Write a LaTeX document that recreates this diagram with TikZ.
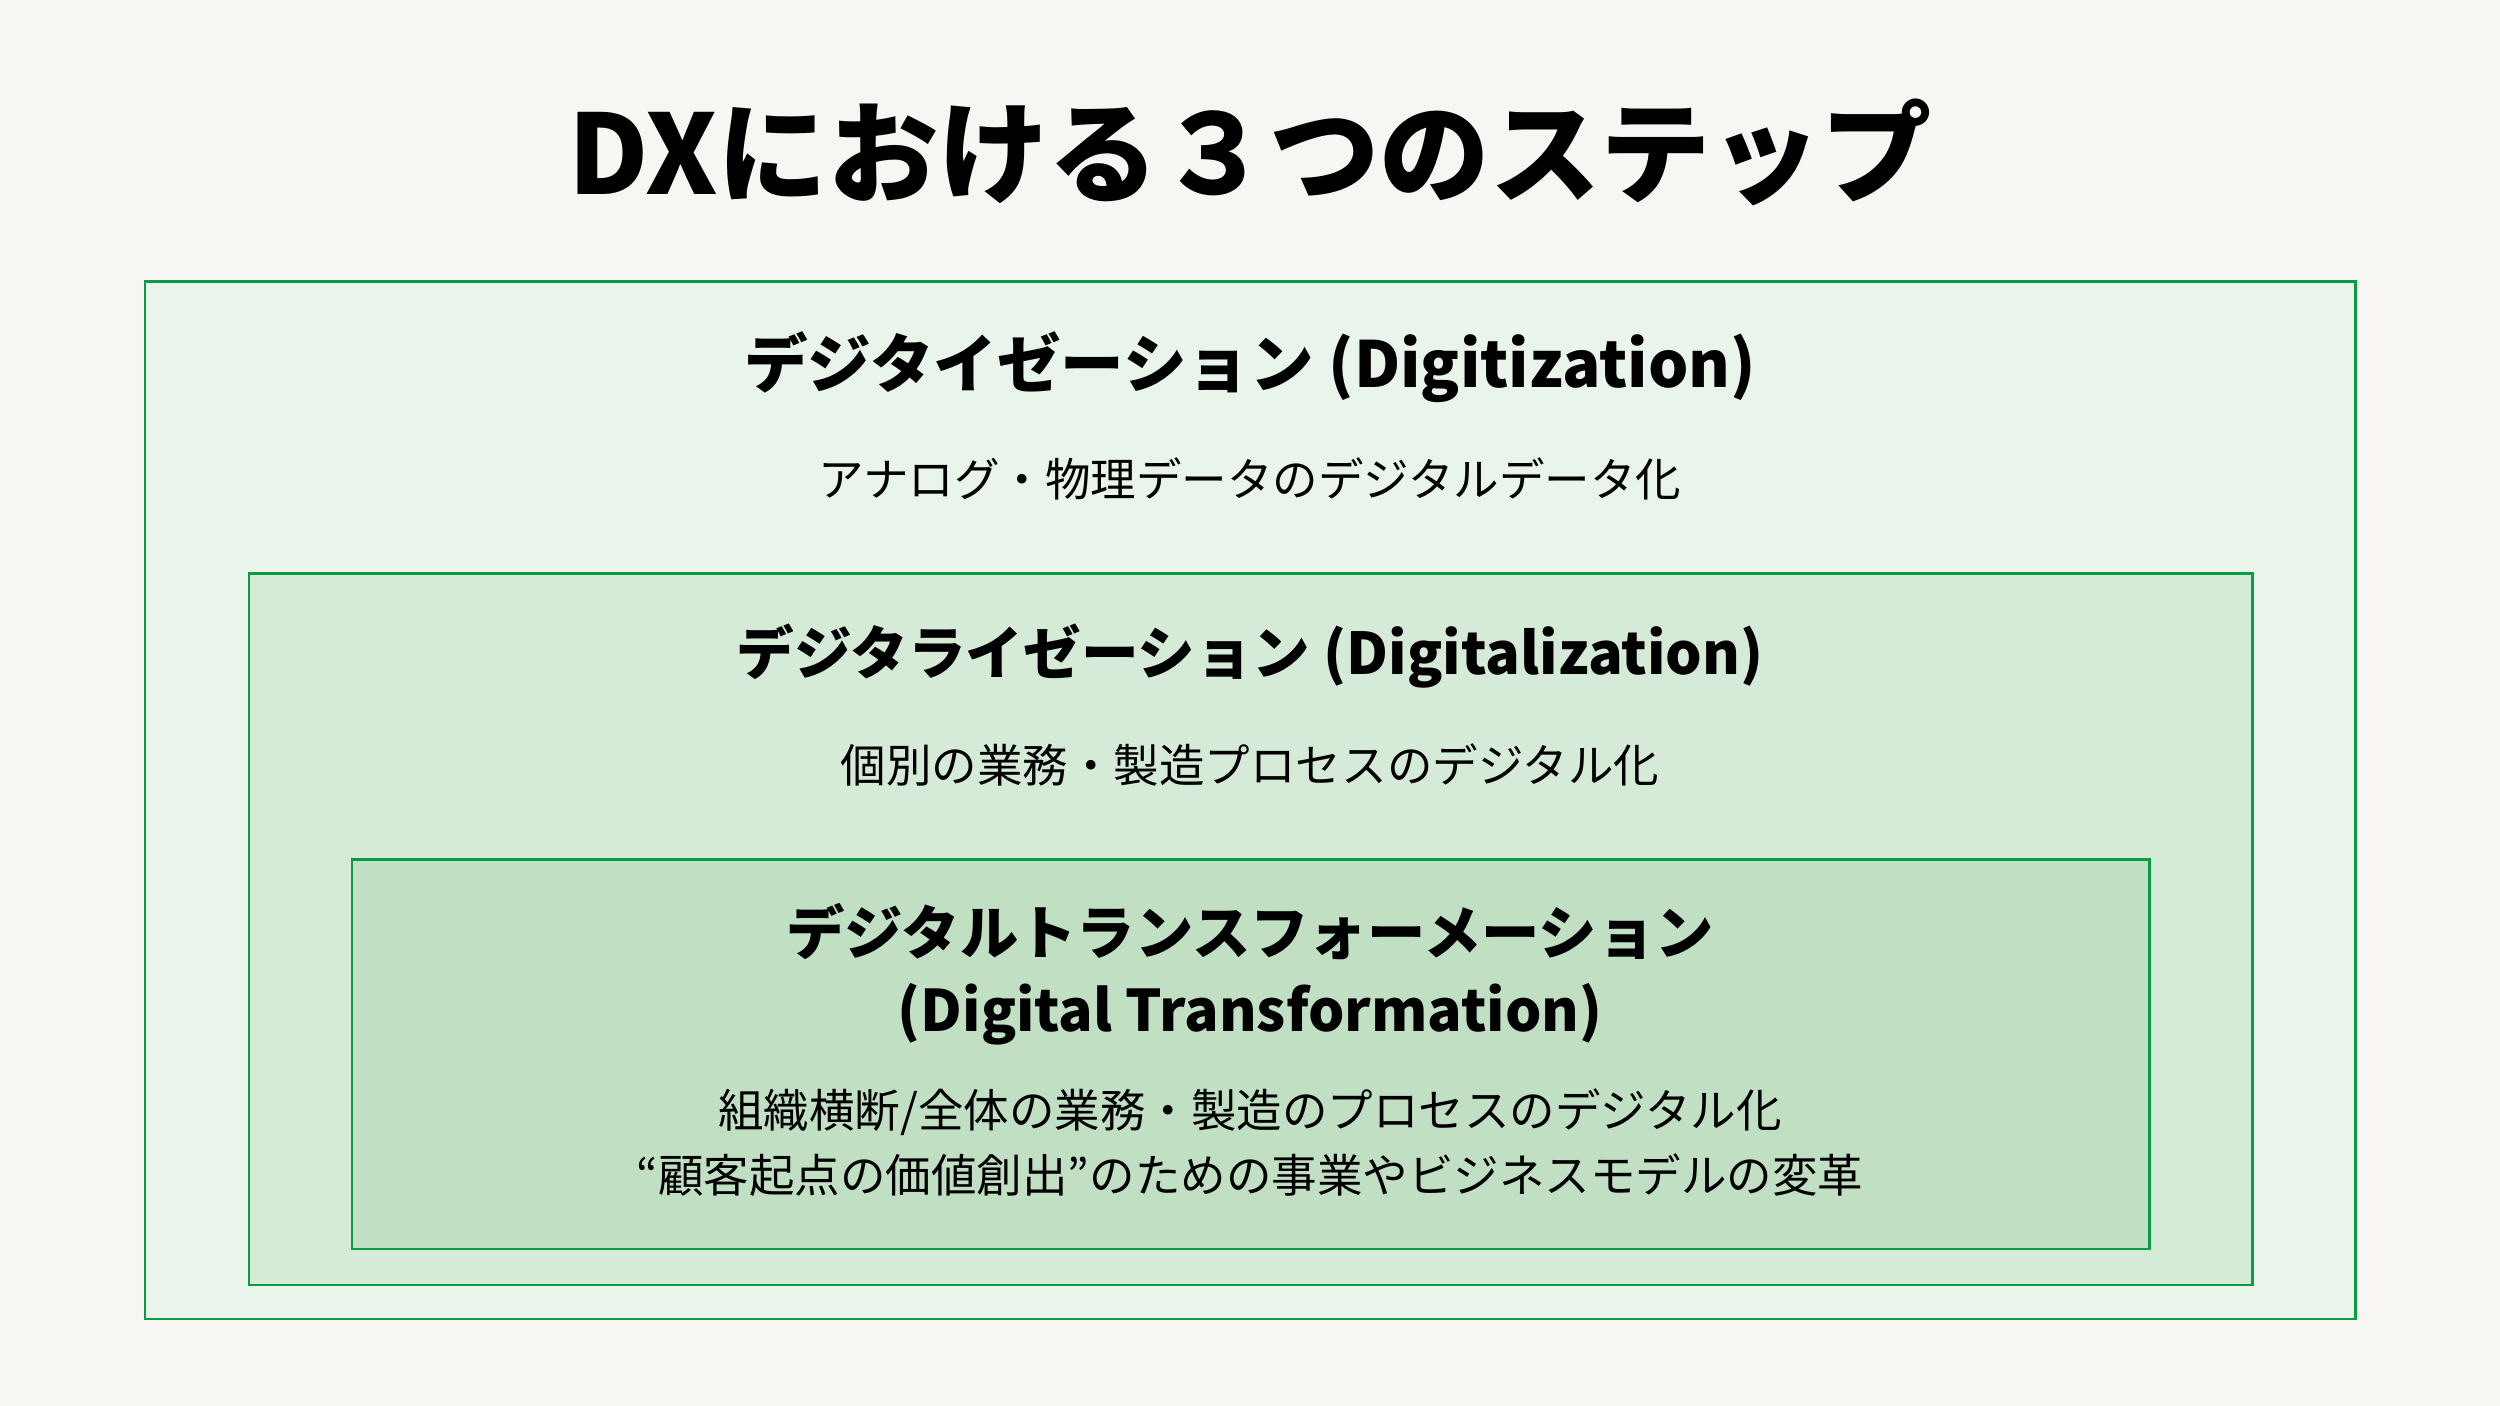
\documentclass[tikz,border=0pt]{standalone}
\usepackage{fontspec}
\setmainfont{Noto Sans CJK JP}
\usepackage{tikz}
\usetikzlibrary{calc}

\definecolor{paper}{HTML}{F7F6F2}
\definecolor{dxgreen}{HTML}{0C9B45}
\definecolor{layerA}{HTML}{E9F4EA}
\definecolor{layerB}{HTML}{D5EAD7}
\definecolor{layerC}{HTML}{C0DFC3}

\begin{document}
\begin{tikzpicture}
\def\xmin{0}
\def\xmax{25}
\def\ymin{0}
\def\ymax{14.06}
\def\xmid{12.5}

% Background and page size
\fill[paper] (\xmin,\ymin) rectangle (\xmax,\ymax);
\useasboundingbox (\xmin,\ymin) rectangle (\xmax,\ymax);

% Styles for the three kinds of text
\tikzstyle{title}=[anchor=base, inner sep=0pt, font=\bfseries\fontsize{31.4}{38}\selectfont]
\tikzstyle{head}=[anchor=base, inner sep=0pt, font=\bfseries]
\tikzstyle{desc}=[anchor=base, inner sep=0pt, font=\fontsize{12.95}{15}\selectfont]

% Each step is one framed layer, nested in the one before
\newcommand{\drawlayer}[5]{
% #1, #2 = lower left corner of the layer
% #3, #4 = upper right corner of the layer
% #5 = fill colour of the layer
\draw[line width=0.85pt, draw=dxgreen, fill=#5] (#1,#2) rectangle (#3,#4);
} % End of definition of `drawlayer`

\drawlayer{1.45}{0.87}{23.55}{11.24}{layerA}
\drawlayer{2.49}{1.21}{22.52}{8.32}{layerB}
\drawlayer{3.52}{1.57}{21.49}{5.46}{layerC}

% Title
\node[title] (dxtitle) at (\xmid,12.11) {DXにおける３つのステップ};

% Step 1
\node[head, font=\bfseries\fontsize{18.1}{22}\selectfont] (digitization) at (\xmid,10.18) {デジタイゼーション (Digitization)};
\node[desc] (digitizationtxt) at (\xmid,9.09) {アナログ・物理データのデジタルデータ化};

% Step 2
\node[head, font=\bfseries\fontsize{16.4}{20}\selectfont] (digitalization) at (\xmid,7.31) {デジタライゼーション (Digitalization)};
\node[desc] (digitalizationtxt) at (\xmid,6.23) {個別の業務・製造プロセスのデジタル化};

% Step 3, two lines of heading and two of text
\node[head, font=\bfseries\fontsize{16.6}{20}\selectfont] (dxhead) at (\xmid,4.51) {デジタルトランスフォーメーション};
\node[head, font=\bfseries\fontsize{16.3}{20}\selectfont] (dxheadb) at (\xmid,3.74) {(Digital Transformation)};
\node[desc] (dxtxt) at (\xmid,2.78) {組織横断/全体の業務・製造のプロセスのデジタル化};
\node[desc] (dxtxtb) at (\xmid,2.13) {“顧客起点の価値創出”のための事業やビジネスモデルの変革};

\end{tikzpicture}
\end{document}
